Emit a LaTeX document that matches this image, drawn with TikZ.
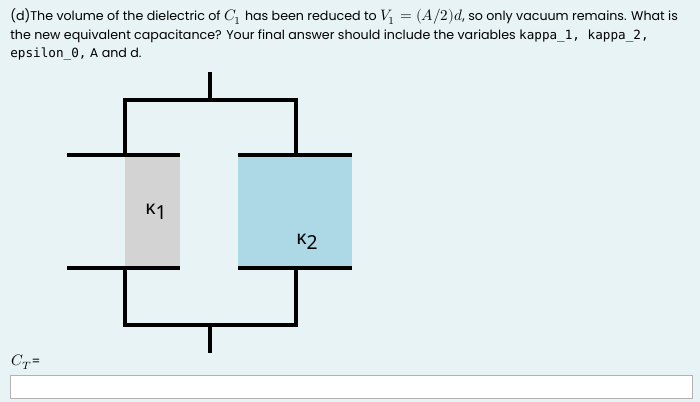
\documentclass[tikz,border=0pt]{standalone}
\usepackage{fontspec}
\setmainfont{Poppins}
\setmonofont{DejaVu Sans Mono}
\newfontfamily\greekfont{Noto Sans}
\usepackage{unicode-math}
\setmathfont{Latin Modern Math}
\usetikzlibrary{positioning}
\definecolor{pagebg}{RGB}{231,243,245}
\definecolor{dielgray}{RGB}{211,211,211}
\definecolor{dielblue}{RGB}{173,216,230}
\tikzset{
  wire/.style={line width=4.4pt*0.567, black},
  plate/.style={line width=4.4pt*0.567, black},
  qtext/.style={anchor=base west, inner sep=0pt, font=\fontsize{7.2}{9}\selectfont},
  kappalabel/.style={font=\greekfont\fontsize{11}{12}\selectfont}
}
\newcommand\kapsub[1]{κ\raisebox{-2.5pt}{#1}}
\newcommand\qmath[1]{{\fontsize{8.6}{9}\selectfont$#1$}}
\begin{document}
\begin{tikzpicture}[x=0.02cm, y=-0.02cm]
    % Background
    \fill[pagebg] (0,0) rectangle (700,402);
    \useasboundingbox (0,0) rectangle (700,402);

    % Question text
    \node[qtext] (line1) at (10,21) {(d)The volume of the dielectric of \qmath{C_1} has been reduced to \qmath{V_1=(A/2)d}, so only vacuum remains. What is};
    \node[qtext] (line2) at (10,40) {the new equivalent capacitance? Your final answer should include the variables {\ttfamily kappa\_1, kappa\_2,}};
    \node[qtext] (line3) at (10,58) {{\ttfamily epsilon\_0,} A and d.};

    % Dielectrics
    \fill[dielgray] (125,155) rectangle (180,268);
    \fill[dielblue] (238,155) rectangle (352,268);
    \node[kappalabel] (k1) at (156,212) {\kapsub{1}};
    \node[kappalabel] (k2) at (307,242) {\kapsub{2}};

    % Plates
    \draw[plate] (67,155) -- (180,155);
    \draw[plate] (67,268) -- (180,268);
    \draw[plate] (238,155) -- (352,155);
    \draw[plate] (238,268) -- (352,268);

    % Wires
    \coordinate (topin) at (210,72);
    \coordinate (botout) at (210,353);
    \draw[wire] (topin) -- (210,100);
    \draw[wire] (125,155) -- (125,100) -- (296,100) -- (296,155);
    \draw[wire] (125,268) -- (125,325) -- (296,325) -- (296,268);
    \draw[wire] (210,325) -- (botout);

    % Answer field
    \node[qtext, anchor=west, font=\fontsize{7}{8}\selectfont] (ct) at (11,362) {\qmath{C_T}=};
    \draw[fill=white, draw=gray!60] (10,375) rectangle (692,398);
\end{tikzpicture}
\end{document}
